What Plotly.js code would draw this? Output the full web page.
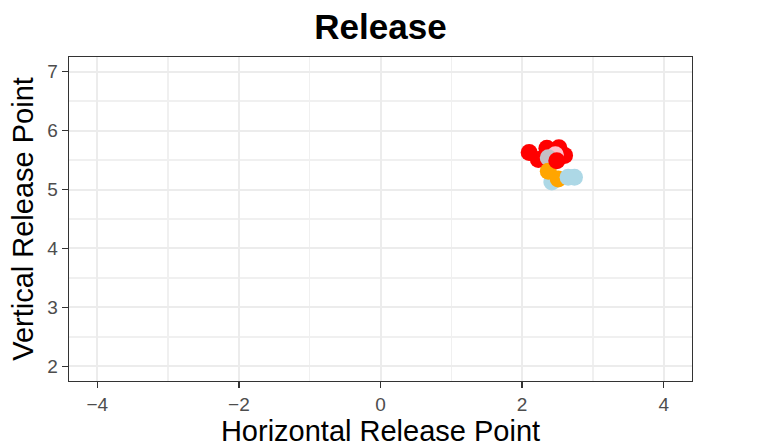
<!DOCTYPE html>
<html>
<head>
<meta charset="utf-8">
<script src="https://cdn.plot.ly/plotly-3.0.1.min.js"></script>
<style>
  body { margin: 0; background: #fff; }
  #graph { width: 768px; height: 447px; }
</style>
</head>
<body>
<div id="graph"></div>
<script>
/* ----- Data (drawing order = row order) ----- */
var releaseX = [2.10, 2.35, 2.23, 2.52, 2.60, 2.47, 2.37, 2.42, 2.37, 2.51, 2.65, 2.74, 2.49];
var releaseY = [5.63, 5.70, 5.51, 5.71, 5.58, 5.59, 5.54, 5.13, 5.31, 5.18, 5.21, 5.21, 5.49];
var pitchType = ['FF', 'FF', 'FF', 'FF', 'FF', 'SL', 'CT', 'CU', 'CH', 'CH', 'CU', 'CU', 'FF'];

var pitchColors = {
    FF: '#ff0000',
    SL: '#ffc0cb',
    CT: '#c5c0c6',
    CH: '#ffa500',
    CU: '#add8e6'
};

var xTicks = [-4, -2, 0, 2, 4];
var xMinor = [-3, -1, 1, 3];
var yTicks = [2, 3, 4, 5, 6, 7];
var yMinor = [2.5, 3.5, 4.5, 5.5, 6.5];

/* ----- Trace ----- */
var trace0 = {
    x: releaseX,
    y: releaseY,
    mode: 'markers',
    type: 'scatter',
    marker: {
        size: 17,
        color: pitchType.map(function (p) { return pitchColors[p]; }),
        line: {width: 0}
    },
    showlegend: false,
    hoverinfo: 'none'
};

/* ----- Layout (ggplot theme_bw look) ----- */
var gridCol = '#ececec';
var axisFont = {family: 'Liberation Sans, Arial, sans-serif', size: 19, color: '#4d4d4d'};

var layout = {
    width: 768,
    height: 447,
    margin: {l: 69, r: 76, t: 57, b: 66},
    paper_bgcolor: '#ffffff',
    plot_bgcolor: '#ffffff',
    font: {family: 'Liberation Sans, Arial, sans-serif'},
    title: {
        text: '<b>Release</b>',
        font: {size: 35, color: '#000000'},
        x: 0.5,
        xref: 'paper',
        xanchor: 'center',
        y: 0.94,
        yref: 'container',
        yanchor: 'middle'
    },
    xaxis: {
        range: [-4.4, 4.4],
        tickvals: xTicks,
        ticks: 'outside',
        ticklen: 6,
        tickwidth: 1.3,
        tickcolor: '#333333',
        tickfont: axisFont,
        showgrid: true,
        gridcolor: gridCol,
        gridwidth: 2,
        minor: {tickvals: xMinor, showgrid: true, gridcolor: '#f0f0f0', gridwidth: 1.5, ticks: ''},
        zeroline: false,
        showline: true,
        linecolor: '#333333',
        linewidth: 1.3,
        mirror: true,
        title: {text: 'Horizontal Release Point', font: {size: 29, color: '#000000'}, standoff: 6}
    },
    yaxis: {
        range: [1.75, 7.25],
        tickvals: yTicks,
        ticks: 'outside',
        ticklen: 6,
        tickwidth: 1.3,
        tickcolor: '#333333',
        tickfont: axisFont,
        showgrid: true,
        gridcolor: gridCol,
        gridwidth: 2,
        minor: {tickvals: yMinor, showgrid: true, gridcolor: '#f0f0f0', gridwidth: 1.5, ticks: ''},
        zeroline: false,
        showline: true,
        linecolor: '#333333',
        linewidth: 1.3,
        mirror: true,
        title: {text: 'Vertical Release Point', font: {size: 29, color: '#000000'}, standoff: 5}
    }
};

Plotly.newPlot('graph', [trace0], layout, {staticPlot: true});
</script>
</body>
</html>
